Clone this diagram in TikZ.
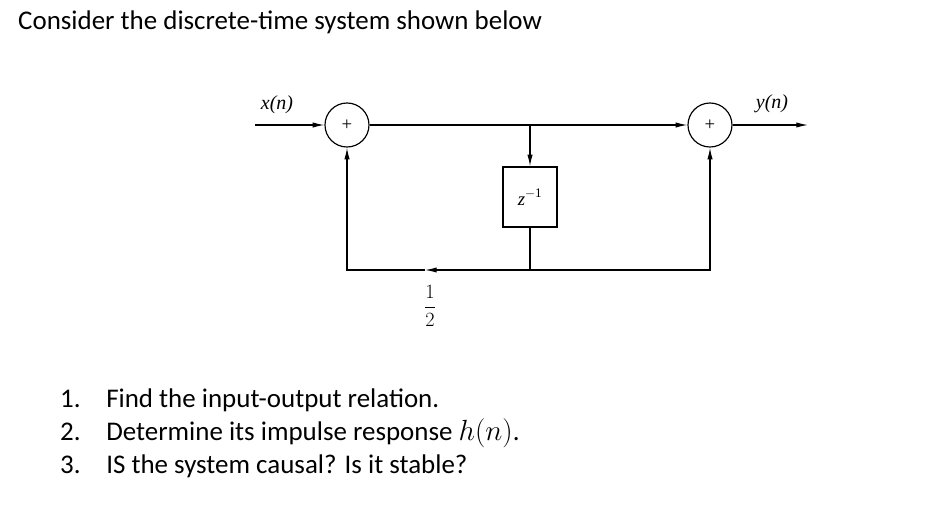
\documentclass[tikz,border=0pt]{standalone}
\usepackage{fontspec}
\setmainfont{Carlito}
\newfontfamily\tms{Liberation Serif}
\usetikzlibrary{arrows.meta}
\begin{document}
\begin{tikzpicture}[x=0.03cm,y=-0.03cm,
  sumnode/.style={draw,circle,minimum size=44*0.03cm,inner sep=0pt,line width=1pt,font=\tms\fontsize{16}{18}\selectfont},
  delaybox/.style={draw,minimum width=54*0.03cm,minimum height=60*0.03cm,inner sep=0pt,line width=1pt},
  sig/.style={line width=1pt},
  arr/.style={sig,-{Latex[length=10pt,width=4.5pt]}},
  lbl/.style={font=\tms\itshape\fontsize{17}{19}\selectfont},
  body/.style={font=\fontsize{23}{27}\selectfont,anchor=west,inner sep=0pt}]
\useasboundingbox (0,0) rectangle (943,529);
\node[body] (title) at (18,22) {Consider the discrete-time system shown below};
\node[sumnode] (s1) at (347,125) {+};
\node[sumnode] (s2) at (710,125) {+};
\node[delaybox,font=\tms\fontsize{16}{18}\selectfont] (d) at (530,197) {\itshape z\textsuperscript{\upshape$-$1}};
\coordinate (in) at (255,125);
\coordinate (out) at (808,125);
\coordinate (j) at (530,125);
\coordinate (bj) at (530,270);
\coordinate (bl) at (347,270);
\coordinate (br) at (710,270);
\coordinate (mid) at (425,270);
\node[lbl] (xn) at (277,105) {x(n)};
\node[lbl] (yn) at (772,104) {y(n)};
\node[font=\fontsize{17}{19}\selectfont] (half) at (430,306) {$\displaystyle\frac{1}{2}$};
\draw[arr] (in) -- (s1.west);
\draw[arr] (s1.east) -- (s2.west);
\draw[arr] (s2.east) -- (out);
\draw[arr] (j) -- (d.north);
\draw[sig] (d.south) -- (bj);
\draw[arr] (bj) -- (mid);
\draw[arr] (mid) -- (bl) -- (s1.south);
\draw[arr] (bj) -- (br) -- (s2.south);
\node[body] (l1) at (60,400) {1.\hspace{0.95em}Find the input-output relation.};
\node[body] (l2) at (60,433) {2.\hspace{0.95em}Determine its impulse response $h(n)$.};
\node[body] (l3) at (60,466) {3.\hspace{0.95em}IS the system causal? Is it stable?};
\end{tikzpicture}
\end{document}
